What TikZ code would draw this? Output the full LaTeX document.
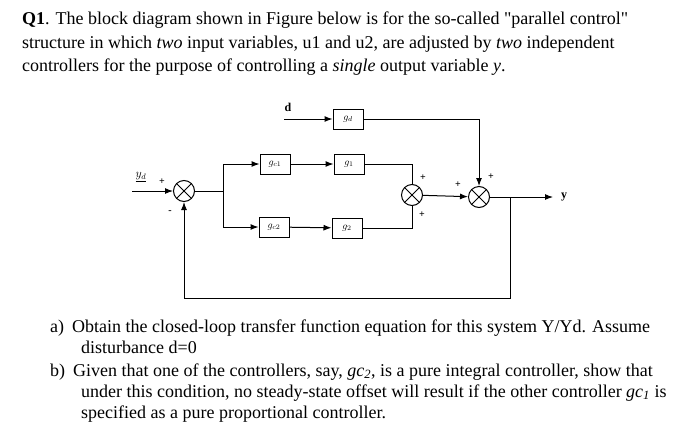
\documentclass[tikz,border=0pt]{standalone}
\usepackage{fontspec}
\setmainfont{Liberation Serif}[Ligatures=TeXOff]
\usetikzlibrary{arrows.meta}
\begin{document}
\begin{tikzpicture}[x=1pt,y=-1pt,
  txt/.style={anchor=base west,inner sep=0pt,font=\fontsize{18}{21}\selectfont},
  blk/.style={draw,line width=1pt,minimum width=30pt,minimum height=20pt,inner sep=0pt,font=\normalsize},
  sumj/.style={draw,circle,line width=1pt,minimum size=21pt,inner sep=0pt,path picture={\draw[line width=1pt] (path picture bounding box.north west)--(path picture bounding box.south east) (path picture bounding box.north east)--(path picture bounding box.south west);}},
  ln/.style={line width=1pt},
  ar/.style={line width=1pt,-{Latex[length=8pt,width=6pt]}},
  sg/.style={font=\normalsize\bfseries,inner sep=0pt}]
\useasboundingbox (0,0) rectangle (700,439);
\node[txt] (t1) at (22,24) {\textbf{Q1}. The block diagram shown in Figure below is for the so-called "parallel control"};
\node[txt] (t2) at (22,48) {structure in which \textit{two} input variables, u1 and u2, are adjusted by \textit{two} independent};
\node[txt] (t3) at (22,71) {controllers for the purpose of controlling a \textit{single} output variable \textit{y}.};
\node[txt] (a1) at (50,332) {a)\hspace{8pt}Obtain the closed-loop transfer function equation for this system Y/Yd. Assume};
\node[txt] (a2) at (81,353) {disturbance d=0};
\node[txt] (b1) at (50,376) {b)\hspace{8pt}Given that one of the controllers, say, \textit{gc\textsubscript{2}}, is a pure integral controller, show that};
\node[txt] (b2) at (81,397) {under this condition, no steady-state offset will result if the other controller \textit{gc\textsubscript{1}} is};
\node[txt] (b3) at (81,418) {specified as a pure proportional controller.};
% diagram
\node[sumj] (s1) at (184,191) {};
\node[sumj] (s2) at (412,195) {};
\node[sumj] (s3) at (479,197) {};
\node[blk] (gc1) at (275,164) {$g_{c1}$};
\node[blk] (g1) at (349,164) {$g_1$};
\node[blk] (gc2) at (274,227) {$g_{c2}$};
\node[blk] (g2) at (347,228) {$g_2$};
\node[blk] (gd) at (348,119) {$g_d$};
\coordinate (in) at (132,191);
\coordinate (sp) at (223,191);
\coordinate (din) at (284,119);
\coordinate (out) at (553,197);
\coordinate (fb) at (510,197);
\node[sg,font=\large] (yd) at (141,177) {$\underline{y_d}$};
\node[sg,font=\large] (dl) at (288,107) {\textbf{d}};
\node[sg,font=\large] (yl) at (564,197) {\textbf{y}};
\draw[ar] (in) -- (s1);
\draw[ln] (s1) -- (sp);
\draw[ar] (sp) |- (gc1);
\draw[ar] (sp) |- (gc2);
\draw[ar] (gc1) -- (g1);
\draw[ar] (gc2) -- (g2);
\draw[ln] (g1) -| (s2);
\draw[ln] (g2) -| (s2);
\draw[ar] (s2) -- (s3);
\draw[ar] (din) -- (gd);
\draw[ar] (gd) -| (s3);
\draw[ar] (s3) -- (out);
\draw[ar] (fb) |- (184,298) -- (s1);
\node[sg] (p1) at (162,182) {+};
\node[sg] (m1) at (170,212) {-};
\node[sg] (p2) at (423,178) {+};
\node[sg] (p3) at (422,215) {+};
\node[sg] (p4) at (458,185) {+};
\node[sg] (p5) at (491,177) {+};
\end{tikzpicture}
\end{document}
